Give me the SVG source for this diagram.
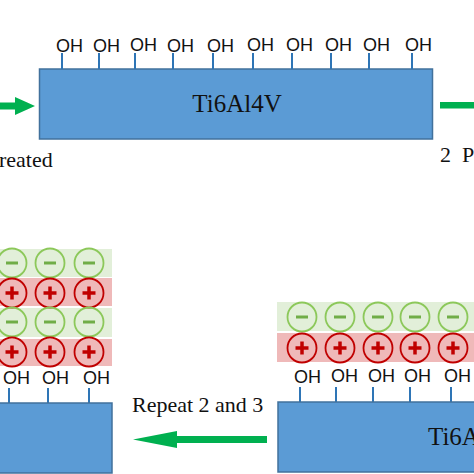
<svg xmlns="http://www.w3.org/2000/svg" width="474" height="474" viewBox="0 0 474 474">
<style>
.box{fill:#5b9bd5;stroke:#41719c;stroke-width:1.5}
.lbl{font-family:"Liberation Serif","Times New Roman",serif;fill:#111}
.oh{font-family:"Liberation Sans",Arial,sans-serif;font-size:18px;fill:#111}
.stem{stroke:#2e75b6;stroke-width:2}
.gband{fill:#e2efd9}
.rband{fill:#efb9b9}
.gc{fill:none;stroke:#8cc85a;stroke-width:1.8}
.rc{fill:none;stroke:#c00000;stroke-width:1.8}
.minus{stroke:#70ad47;stroke-width:3}
.plus{stroke:#c00000;stroke-width:3.5}
.arrow{fill:#00b050}
</style>
<defs>
<g id="neg"><circle class="gc" r="14.5"/><line class="minus" x1="-6" y1="0" x2="6" y2="0"/></g>
<g id="pos"><circle class="rc" r="14.5"/><line class="plus" x1="-6.5" y1="0" x2="6.5" y2="0"/><line class="plus" x1="0" y1="-6.5" x2="0" y2="6.5"/></g>
</defs>

<g id="connectors">
<polygon class="arrow" points="0,102.5 15,102.5 15,97 35,106 15,115 15,109.5 0,109.5"/>
<rect class="arrow" x="440" y="102" width="34" height="6.5"/>
<polygon class="arrow" points="267,436 177,436 177,431 133,439.5 177,448 177,443 267,443"/>
</g>

<g id="top-node">
<rect class="box" x="39.5" y="69" width="393" height="70"/>
<text class="lbl" x="237" y="112" font-size="25" text-anchor="middle">Ti6Al4V</text>
<g id="top-oh">
<line class="stem" x1="62" y1="53" x2="62" y2="69"/><text class="oh" x="56" y="52">OH</text>
<line class="stem" x1="99" y1="53" x2="99" y2="69"/><text class="oh" x="93" y="52">OH</text>
<line class="stem" x1="135" y1="53" x2="135" y2="69"/><text class="oh" x="130" y="51">OH</text>
<line class="stem" x1="173" y1="53" x2="173" y2="69"/><text class="oh" x="167" y="52">OH</text>
<line class="stem" x1="213" y1="53" x2="213" y2="69"/><text class="oh" x="207" y="52">OH</text>
<line class="stem" x1="253" y1="53" x2="253" y2="69"/><text class="oh" x="247" y="51">OH</text>
<line class="stem" x1="292" y1="53" x2="292" y2="69"/><text class="oh" x="286" y="51">OH</text>
<line class="stem" x1="331" y1="53" x2="331" y2="69"/><text class="oh" x="325" y="51">OH</text>
<line class="stem" x1="369" y1="53" x2="369" y2="69"/><text class="oh" x="363" y="51">OH</text>
<line class="stem" x1="412" y1="53" x2="412" y2="69"/><text class="oh" x="405" y="51">OH</text>
</g>
</g>

<g id="label-1"><text class="lbl" x="-1" y="167" font-size="22">reated</text></g>
<g id="label-2"><text class="lbl" x="440" y="162" font-size="22" xml:space="preserve">2  P</text></g>
<g id="label-repeat"><text class="lbl" x="132" y="412" font-size="22">Repeat 2 and 3</text></g>

<g id="bottom-right-node">
<rect class="gband" x="277" y="302" width="200" height="29"/>
<rect class="rband" x="277" y="333" width="200" height="29"/>
<use href="#neg" x="302" y="317"/><use href="#neg" x="340" y="317"/><use href="#neg" x="378" y="317"/><use href="#neg" x="415" y="317"/><use href="#neg" x="453" y="317"/>
<use href="#pos" x="302" y="348"/><use href="#pos" x="340" y="348"/><use href="#pos" x="378" y="348"/><use href="#pos" x="415" y="348"/><use href="#pos" x="453" y="348"/>
<line class="stem" x1="300" y1="387" x2="300" y2="402"/><text class="oh" x="294" y="383">OH</text>
<line class="stem" x1="336" y1="387" x2="336" y2="402"/><text class="oh" x="331" y="382">OH</text>
<line class="stem" x1="373" y1="387" x2="373" y2="402"/><text class="oh" x="368" y="382">OH</text>
<line class="stem" x1="410" y1="387" x2="410" y2="402"/><text class="oh" x="404" y="382">OH</text>
<line class="stem" x1="451" y1="387" x2="451" y2="402"/><text class="oh" x="444" y="382">OH</text>
<rect class="box" x="278" y="402" width="200" height="70"/>
<text class="lbl" x="428" y="445" font-size="25">Ti6A</text>
</g>

<g id="bottom-left-node">
<rect class="gband" x="-2" y="249" width="114" height="28"/>
<rect class="rband" x="-2" y="278" width="114" height="28"/>
<rect class="gband" x="-2" y="308" width="114" height="29"/>
<rect class="rband" x="-2" y="339" width="114" height="27"/>
<use href="#neg" x="12" y="263"/><use href="#neg" x="50" y="263"/><use href="#neg" x="89" y="263"/>
<use href="#pos" x="12" y="293"/><use href="#pos" x="50" y="293"/><use href="#pos" x="89" y="293"/>
<use href="#neg" x="12" y="322"/><use href="#neg" x="50" y="322"/><use href="#neg" x="89" y="322"/>
<use href="#pos" x="12" y="352"/><use href="#pos" x="50" y="352"/><use href="#pos" x="89" y="352"/>
<line class="stem" x1="9" y1="388" x2="9" y2="403"/><text class="oh" x="3" y="384">OH</text>
<line class="stem" x1="48" y1="388" x2="48" y2="403"/><text class="oh" x="42" y="384">OH</text>
<line class="stem" x1="89" y1="388" x2="89" y2="403"/><text class="oh" x="83" y="384">OH</text>
<rect class="box" x="-2" y="403" width="114" height="70"/>
</g>
</svg>
